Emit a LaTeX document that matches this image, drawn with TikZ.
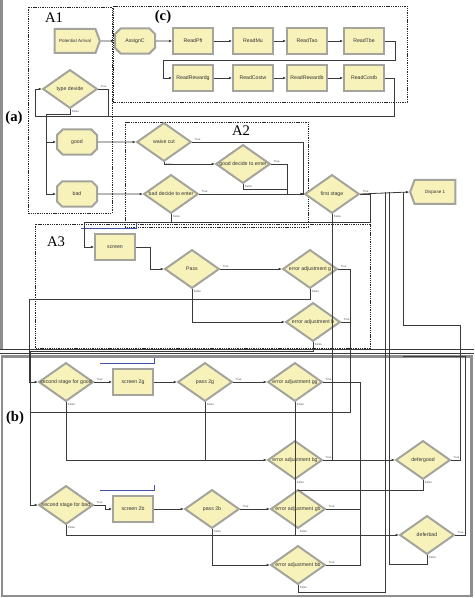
\documentclass[tikz,border=0pt]{standalone}
\usepackage{fontspec}
\setmainfont{Liberation Serif}
\setsansfont{Liberation Sans}
\usepackage{tikz}
\usetikzlibrary{arrows.meta,shapes.geometric,shapes.symbols,shapes.misc}
\definecolor{modfill}{HTML}{F7F1BA}
\definecolor{rim}{HTML}{A4A49C}
\definecolor{ink}{HTML}{3A3A3A}
\definecolor{edge}{HTML}{8E8E8E}
\definecolor{queue}{HTML}{4252A8}
\newcommand{\dtxt}[1]{\makebox[0pt]{#1}}
\tikzset{
  mod/.style={draw=rim, line width=1.5pt, fill=modfill, inner sep=0pt, text=black!80,
    font=\sffamily\fontsize{3.9}{4.4}\selectfont},
  proc/.style={mod, rectangle, minimum width=30pt, minimum height=19pt},
  asgn/.style={mod, chamfered rectangle, chamfered rectangle xsep=2.5pt,
    chamfered rectangle ysep=2.5pt, minimum width=30pt, minimum height=19pt},
  dec/.style={mod, diamond, minimum width=41pt, minimum height=29pt},
  ends/.style={mod, signal, signal pointer angle=140, minimum width=34pt, minimum height=18pt,
    font=\sffamily\fontsize{3.4}{3.8}\selectfont},
  flow/.style={draw=ink, line width=0.6pt, -{Latex[length=2.2pt,width=2pt]}},
  wire/.style={draw=ink, line width=0.6pt},
  area/.style={draw=black!85, line width=0.6pt, dash pattern=on 1pt off 0.7pt},
  lab/.style={font=\fontsize{11}{12}\selectfont},
  labb/.style={font=\bfseries\fontsize{11}{12}\selectfont},
  tf/.style={inner sep=0pt, text=black!65, font=\sffamily\fontsize{2.2}{2.5}\selectfont},
  qline/.style={draw=queue, line width=0.5pt},
}

\begin{document}
\begin{tikzpicture}[x=0.75pt,y=-0.75pt]
  \useasboundingbox (0,0) rectangle (474,598);
  \draw[draw=edge, line width=2pt] (1.5,0) -- (1.5,350);
  \draw[wire, line width=0.8pt] (0,349.5) -- (474,349.5);
  \draw[wire, line width=0.8pt] (0,353.5) -- (474,353.5);
  \draw[draw=edge, line width=1.8pt] (2,356.5) rectangle (471.5,596);

  \draw[area] (28,7) rectangle (112,213);
  \draw[area] (113,6) rectangle (407,102);
  \draw[area] (125,122) rectangle (308,227);
  \draw[area] (35,224) rectangle (370,348);

  \node[labb] (lab-a) at (14,118) {(a)};
  \node[labb] (lab-b) at (15,418) {(b)};
  \node[labb] (lab-c) at (163,17) {(c)};
  \node[lab] (lab-a1) at (54,18) {A1};
  \node[lab] (lab-a2) at (241,131) {A2};
  \node[lab] (lab-a3) at (56,242) {A3};

  \node[ends, signal to=east] (arr) at (75,41) {Potential Arrival};
  \node[asgn] (asgc) at (135,41) {AssignC};
  \node[proc] (rpft) at (193,41) {ReadPft};
  \node[proc] (rmu) at (253,41) {ReadMu};
  \node[proc] (rtao) at (307,41) {ReadTao};
  \node[proc] (rtbe) at (364,41) {ReadTbe};
  \node[proc] (rrwg) at (193,78) {ReadRewardg};
  \node[proc] (rcw) at (253,78) {ReadCostw};
  \node[proc] (rrwb) at (307,78) {ReadRewardb};
  \node[proc] (rcb) at (364,78) {ReadCostb};

  \node[dec] (td) at (70,89) {type devide};
  \node[asgn] (good) at (77,142) {good};
  \node[asgn] (bad) at (77,194) {bad};

  \node[dec] (wc) at (164,142) {waive cut};
  \node[dec] (gd) at (243,164) {\dtxt{good decide to enter}};
  \node[dec] (bd) at (171,194) {\dtxt{bad decide to enter}};
  \node[dec] (fs) at (332,194) {first stage};
  \node[ends, signal to=west] (disp) at (435,192) {Dispose 1};

  \node[proc] (scr) at (115,247) {screen};
  \node[dec] (ps) at (192,269) {Pass};
  \node[dec] (eag) at (310,269) {\dtxt{error adjustment g}};
  \node[dec] (eab) at (313,322) {\dtxt{error adjustment b}};

  \node[dec] (sg) at (66,382) {\dtxt{second stage for good}};
  \node[proc] (s2g) at (133,382) {screen 2g};
  \node[dec] (p2g) at (205,382) {pass 2g};
  \node[dec] (eagg) at (295,382) {\dtxt{error adjustment gg}};
  \node[dec] (eabg) at (295,460) {\dtxt{error adjustment bg}};
  \node[dec] (defg) at (423,460) {defergood};
  \node[dec] (sb) at (66,505) {\dtxt{second stage for bad}};
  \node[proc] (s2b) at (133,509) {screen 2b};
  \node[dec] (p2b) at (212,509) {pass 2b};
  \node[dec] (eagb) at (298,509) {\dtxt{error adjustment gb}};
  \node[dec] (eabb) at (298,565) {\dtxt{error adjustment bb}};
  \node[dec] (defb) at (427,535) {deferbad};

  \foreach \d in {td,wc,gd,bd,fs,ps,eag,eab,sg,p2g,eagg,eabg,defg,sb,p2b,eagb,eabb,defb}{
    \node[tf, anchor=south west] (\d-t) at ([shift={(1.5pt,1pt)}]\d.east) {True};
    \node[tf, anchor=west] (\d-f) at ([shift={(1.2pt,-1.8pt)}]\d.south) {False};
  }

  \draw[qline] ([xshift=-10pt,yshift=4pt]scr.north west) -- ([yshift=4pt]scr.north east) -- ++(0pt,4pt);
  \draw[qline] ([xshift=-9pt,yshift=3.4pt]s2g.north west) -- ([yshift=3.4pt]s2g.north east) -- ++(0pt,4pt);
  \draw[qline] ([xshift=-9pt,yshift=3.4pt]s2b.north west) -- ([yshift=3.4pt]s2b.north east) -- ++(0pt,4pt);

  \draw[flow] (arr) -- (asgc);
  \draw[flow] (asgc) -- (rpft);
  \draw[flow] (rpft) -- (rmu);
  \draw[flow] (rmu) -- (rtao);
  \draw[flow] (rtao) -- (rtbe);
  \draw[flow] (rtbe.east) -- (395,41) -- (395,60) -- (163,60) |- (rrwg.west);
  \draw[flow] (rrwg) -- (rcw);
  \draw[flow] (rcw) -- (rrwb);
  \draw[flow] (rrwb) -- (rcb);
  \draw[flow] (rcb.east) -- (394,78) -- (394,116) -- (35,116) |- (td.west);

  \draw[wire] (td.east) -- (108,89) -- (108,116);
  \draw[flow] (td.south) -- ++(0,5) -| ([xshift=-7pt]good.west) -- (good.west);
  \draw[flow] ([xshift=-7pt]good.west) |- (bad.west);
  \draw[flow] (good) -- (wc);
  \draw[flow] (bad) -- (bd);

  \draw[flow] (wc.east) -- (303,142) |- (fs.west);
  \draw[flow] (wc.south) |- (gd.west);
  \draw[flow] (gd.east) -- (287,164) |- (fs.west);
  \draw[wire] (gd.south) |- (287,189);
  \draw[flow] (bd) -- (fs);
  \draw[flow] (bd.south) -- (171,222) -| ([xshift=-7.5pt]scr.west) -- (scr.west);
  \draw[wire] (fs.east) -- (370,194) |- (171,222);
  \draw[flow] (fs.east) -- (disp.west);
  \draw[wire] (fs.south) -- (332,460);

  \draw[flow] (scr.east) -- (150,247) |- (ps.west);
  \draw[flow] (ps) -- (eag);
  \draw[flow] (ps.south) |- (eab.west);
  \draw[flow] (eag.south) -- ++(0,10) -| ([xshift=-6.5pt]sg.west) -- (sg.west);
  \draw[flow] (eag.east) -- (350,269) |- (30,412) |- (sb.west);
  \draw[wire] (eab.east) -- (350,322);
  \draw[wire] (eab.south) |- (30,351.5) -- (30,412);

  \draw[flow] (sg) -- (s2g);
  \draw[flow] (s2g) -- (p2g);
  \draw[flow] (p2g) -- (eagg);
  \draw[flow] (sg.south) |- (eabg.west);
  \draw[wire] (p2g.south) -- (205,460);
  \draw[flow] (eabg) -- (defg);
  \draw[wire] (eagg.east) -- (360,382) |- (eabb.east);
  \draw[wire] (eagb.east) -- (360,509);
  \draw[wire] (eagg.south) -- (295,535);
  \draw[flow] (sb.east) -- (105,505) |- (s2b.west);
  \draw[flow] (s2b) -- (p2b);
  \draw[flow] (p2b) -- (eagb);
  \draw[flow] (p2b.south) |- (eabb.west);
  \draw[flow] (sb.south) |- (defb.west);
  \draw[wire] (defg.south) |- (298,490);
  \draw[wire] (eabb.south) |- (385,592) -- (385,192);
  \draw[wire] (defb.south) |- (389,564) -- (389,192);
  \draw[wire] (defg.east) -- (460,460) |- (403,325) -- (403,192);
  \draw[wire] (defb.east) -- (465,535) |- (403,356);
\end{tikzpicture}
\end{document}
